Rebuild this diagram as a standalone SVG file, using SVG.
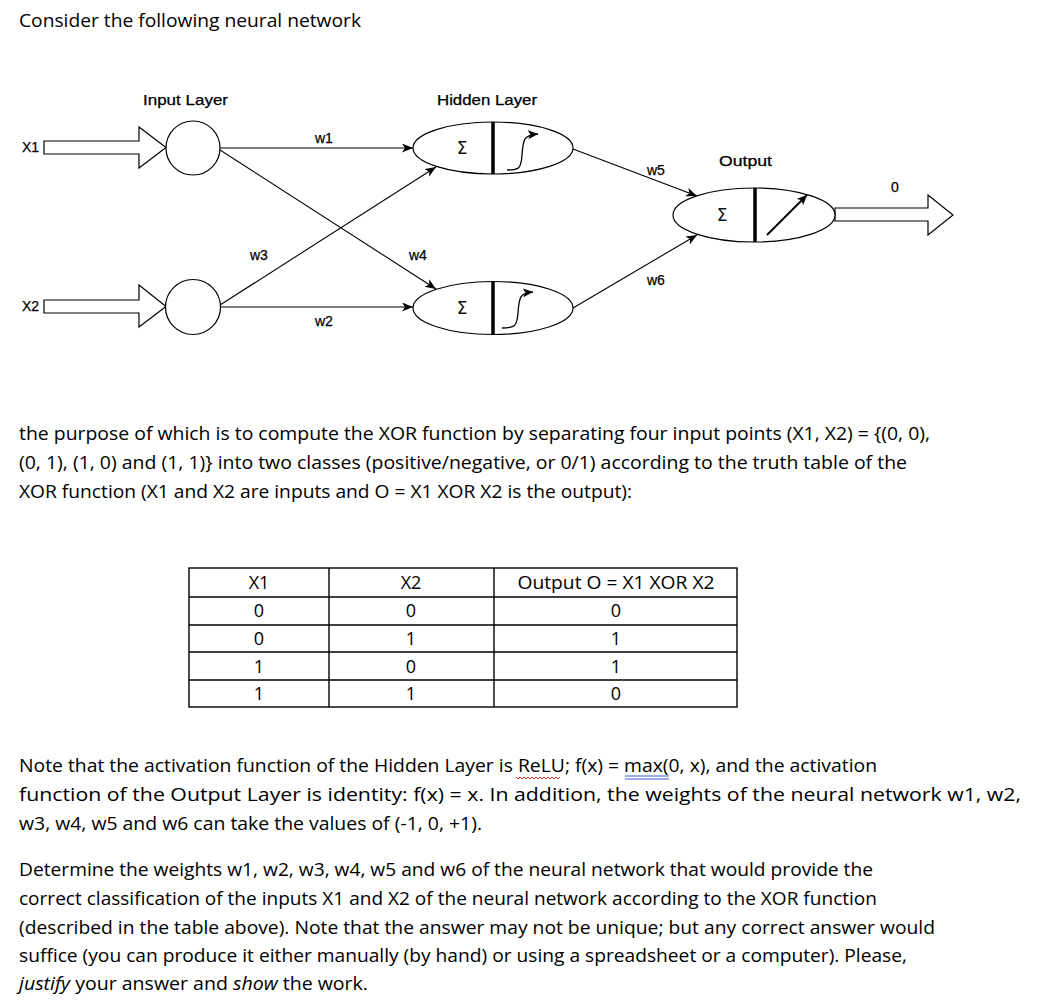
<svg xmlns="http://www.w3.org/2000/svg" width="1038" height="1004" viewBox="0 0 1038 1004">
  <defs>
    <style>
      .doc { font-family: "Open Sans", "Noto Sans", "Liberation Sans", sans-serif; font-size: 18px; fill: #000; }
      .lbl { font-family: "Liberation Sans", Arial, sans-serif; font-size: 14px; fill: #000; stroke: #000; stroke-width: 0.25; }
      .sig { font-family: "DejaVu Sans", "Liberation Sans", sans-serif; font-size: 17px; fill: #111; }
      .node { fill: #fff; stroke: #000; stroke-width: 1.2; }
      .bar { stroke: #000; stroke-width: 3.5; }
      .conn { stroke: #000; stroke-width: 1.1; fill: none; marker-end: url(#ah); }
      .curve { stroke: #000; stroke-width: 1.3; fill: none; marker-end: url(#ahs); }
      .tbl { stroke: #000; stroke-width: 1.4; fill: none; }
      .tc { text-anchor: middle; }
    </style>
    <marker id="ah" markerUnits="userSpaceOnUse" markerWidth="12" markerHeight="10" refX="11" refY="4.5" orient="auto">
      <path d="M0,0 L11,4.5 L0,9 L3,4.5 z" fill="#000"/>
    </marker>
    <marker id="ahs" markerUnits="userSpaceOnUse" markerWidth="12" markerHeight="10" refX="10" refY="4.5" orient="auto">
      <path d="M0,0 L10,4.5 L0,9 L2.5,4.5 z" fill="#000"/>
    </marker>
  </defs>
  <rect width="1038" height="1004" fill="#fff"/>

  <text class="doc" x="19" y="27" textLength="342" lengthAdjust="spacingAndGlyphs">Consider the following neural network</text>

  <!-- layer titles -->
  <text class="lbl" x="143" y="105" textLength="85" lengthAdjust="spacingAndGlyphs">Input Layer</text>
  <text class="lbl" x="437" y="105" textLength="100" lengthAdjust="spacingAndGlyphs">Hidden Layer</text>
  <text class="lbl" x="719" y="166" textLength="53" lengthAdjust="spacingAndGlyphs">Output</text>

  <!-- connectors -->
  <g id="connectors">
    <line class="conn" x1="220" y1="148" x2="413" y2="148"/>
    <line class="conn" x1="220" y1="150" x2="436" y2="289"/>
    <line class="conn" x1="220" y1="305" x2="436" y2="167"/>
    <line class="conn" x1="221" y1="307" x2="413" y2="307"/>
    <line class="conn" x1="573" y1="149" x2="697" y2="196"/>
    <line class="conn" x1="573" y1="308" x2="697" y2="235"/>
    <text class="lbl" x="315" y="143">w1</text>
    <text class="lbl" x="315" y="326">w2</text>
    <text class="lbl" x="250" y="260">w3</text>
    <text class="lbl" x="409" y="260">w4</text>
    <text class="lbl" x="647" y="175">w5</text>
    <text class="lbl" x="647" y="285">w6</text>
  </g>

  <!-- input X1 -->
  <g id="input-x1">
    <text class="lbl" x="22" y="152">X1</text>
    <path class="node" d="M44,141 L139,141 L139,127 L166,147.5 L139,168 L139,154 L44,154 Z"/>
    <circle class="node" cx="193" cy="148" r="27"/>
  </g>

  <!-- input X2 -->
  <g id="input-x2">
    <text class="lbl" x="22" y="311">X2</text>
    <path class="node" d="M44,300 L139,300 L139,285 L166,306.5 L139,327 L139,313 L44,313 Z"/>
    <circle class="node" cx="193" cy="307" r="27.5"/>
  </g>

  <!-- hidden 1 -->
  <g id="hidden-1">
    <ellipse class="node" cx="493" cy="148" rx="80" ry="26"/>
    <line class="bar" x1="493" y1="122" x2="493" y2="174"/>
    <text class="sig tc" x="462" y="154">Σ</text>
    <path class="curve" d="M507,170 C519,170 521,169 522,155 C523,139 524,135 538,134"/>
  </g>

  <!-- hidden 2 -->
  <g id="hidden-2">
    <ellipse class="node" cx="493" cy="308" rx="80" ry="26.5"/>
    <line class="bar" x1="493" y1="282" x2="493" y2="335"/>
    <text class="sig tc" x="462" y="314">Σ</text>
    <path class="curve" d="M502,328 C514,328 517,327 518,313 C519,297 520,293 533,292"/>
  </g>

  <!-- output -->
  <g id="output">
    <path class="node" d="M835,208 L928,208 L928,195 L953,215 L928,235 L928,221 L835,221 Z"/>
    <ellipse class="node" cx="754" cy="215" rx="81" ry="27"/>
    <line class="bar" x1="755" y1="188" x2="755" y2="242"/>
    <text class="sig tc" x="722" y="221">Σ</text>
    <line x1="767" y1="235" x2="807" y2="195" stroke="#000" stroke-width="2" marker-end="url(#ahs)"/>
    <text class="lbl tc" x="895" y="192">0</text>
  </g>

  <!-- paragraph 1 -->
  <text class="doc" x="19" y="440" textLength="911" lengthAdjust="spacingAndGlyphs">the purpose of which is to compute the XOR function by separating four input points (X1, X2) = {(0, 0),</text>
  <text class="doc" x="19" y="469" textLength="888" lengthAdjust="spacingAndGlyphs">(0, 1), (1, 0) and (1, 1)} into two classes (positive/negative, or 0/1) according to the truth table of the</text>
  <text class="doc" x="19" y="498" textLength="613" lengthAdjust="spacingAndGlyphs">XOR function (X1 and X2 are inputs and O = X1 XOR X2 is the output):</text>

  <!-- table -->
  <g id="truth-table">
    <rect class="tbl" x="189" y="568" width="548" height="139"/>
    <line class="tbl" x1="329" y1="568" x2="329" y2="707"/>
    <line class="tbl" x1="494" y1="568" x2="494" y2="707"/>
    <line class="tbl" x1="189" y1="597" x2="737" y2="597"/>
    <line class="tbl" x1="189" y1="625" x2="737" y2="625"/>
    <line class="tbl" x1="189" y1="652" x2="737" y2="652"/>
    <line class="tbl" x1="189" y1="680" x2="737" y2="680"/>
    <text class="doc tc" x="259" y="589">X1</text>
    <text class="doc tc" x="411" y="589">X2</text>
    <text class="doc tc" x="616" y="589" textLength="197" lengthAdjust="spacingAndGlyphs">Output O = X1 XOR X2</text>
    <text class="doc tc" x="259" y="617">0</text><text class="doc tc" x="411" y="617">0</text><text class="doc tc" x="616" y="617">0</text>
    <text class="doc tc" x="259" y="645">0</text><text class="doc tc" x="411" y="645">1</text><text class="doc tc" x="616" y="645">1</text>
    <text class="doc tc" x="259" y="673">1</text><text class="doc tc" x="411" y="673">0</text><text class="doc tc" x="616" y="673">1</text>
    <text class="doc tc" x="259" y="700">1</text><text class="doc tc" x="411" y="700">1</text><text class="doc tc" x="616" y="700">0</text>
  </g>

  <!-- note paragraph -->
  <text class="doc" x="19" y="772" textLength="858" lengthAdjust="spacingAndGlyphs">Note that the activation function of the Hidden Layer is ReLU; f(x) = max(0, x), and the activation</text>
  <path d="M516,777 l2,2 l2,-2 l2,2 l2,-2 l2,2 l2,-2 l2,2 l2,-2 l2,2 l2,-2 l2,2 l2,-2 l2,2 l2,-2 l2,2 l2,-2 l2,2 l2,-2 l2,2 l2,-2 l2,2 l2,-2" fill="none" stroke="#d9302a" stroke-width="1"/>
  <line x1="625" y1="776" x2="669" y2="776" stroke="#3a5fcd" stroke-width="1"/>
  <line x1="625" y1="779" x2="669" y2="779" stroke="#3a5fcd" stroke-width="1"/>
  <text class="doc" x="19" y="801" textLength="1002" lengthAdjust="spacingAndGlyphs">function of the Output Layer is identity: f(x) = x. In addition, the weights of the neural network w1, w2,</text>
  <text class="doc" x="19" y="830" textLength="463" lengthAdjust="spacingAndGlyphs">w3, w4, w5 and w6 can take the values of (-1, 0, +1).</text>

  <!-- determine paragraph -->
  <text class="doc" x="19" y="876" textLength="854" lengthAdjust="spacingAndGlyphs">Determine the weights w1, w2, w3, w4, w5 and w6 of the neural network that would provide the</text>
  <text class="doc" x="19" y="905" textLength="858" lengthAdjust="spacingAndGlyphs">correct classification of the inputs X1 and X2 of the neural network according to the XOR function</text>
  <text class="doc" x="19" y="934" textLength="916" lengthAdjust="spacingAndGlyphs">(described in the table above). Note that the answer may not be unique; but any correct answer would</text>
  <text class="doc" x="19" y="962" textLength="888" lengthAdjust="spacingAndGlyphs">suffice (you can produce it either manually (by hand) or using a spreadsheet or a computer). Please,</text>
  <text class="doc" x="19" y="990" textLength="349" lengthAdjust="spacingAndGlyphs"><tspan font-style="italic">justify</tspan> your answer and <tspan font-style="italic">show</tspan> the work.</text>
</svg>
